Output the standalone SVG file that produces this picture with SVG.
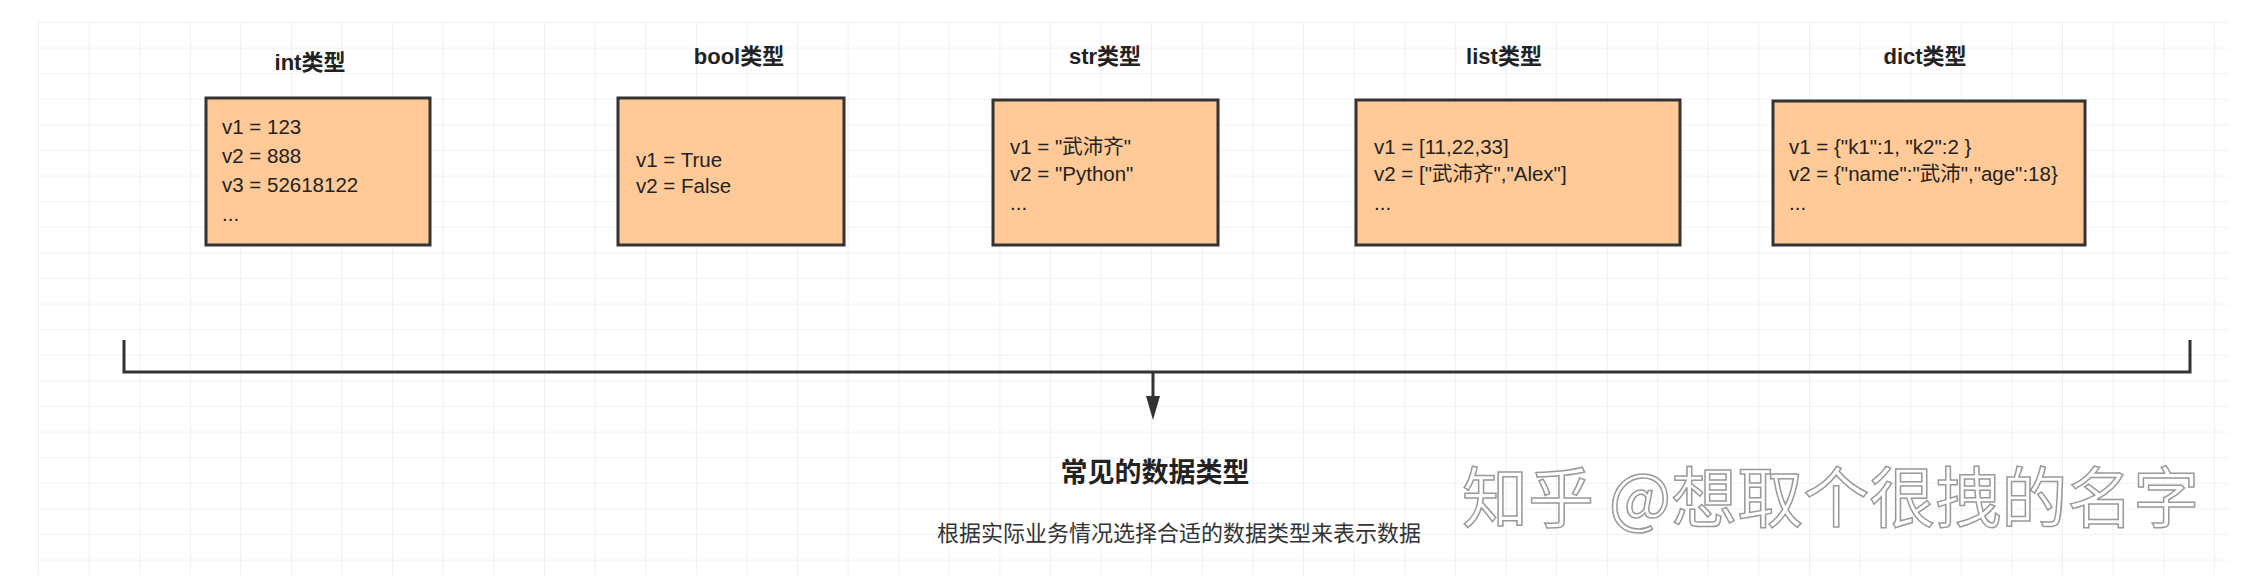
<svg xmlns="http://www.w3.org/2000/svg" width="2262" height="586" viewBox="0 0 2262 586">
<style>
.box{fill:#ffca97;stroke:#333;stroke-width:3}
.t{font-family:"Liberation Sans","Noto Sans CJK SC",sans-serif;font-size:20.5px;fill:#222}
.h{font-family:"Liberation Sans","Noto Sans CJK SC",sans-serif;font-size:22px;font-weight:bold;fill:#222;text-anchor:middle}
.c{stroke:#333;stroke-width:3;fill:none}
</style>
<defs>
<pattern id="g" x="38" y="22" width="50.6" height="25.6" patternUnits="userSpaceOnUse">
<path d="M0 0V25.6M0 0H50.6" stroke="#e6e6e6" stroke-width="1.2" fill="none"/>
</pattern>
</defs>
<rect width="2262" height="586" fill="#fff"/>
<rect x="38" y="22" width="2190" height="553" fill="url(#g)"/>
<g id="int"><text class="h" x="310" y="70">int类型</text><rect class="box" x="206" y="98" width="224" height="147"/>
<text class="t" x="222" y="134">v1 = 123</text><text class="t" x="222" y="163">v2 = 888</text><text class="t" x="222" y="192">v3 = 52618122</text><text class="t" x="222" y="221">...</text></g>
<g id="bool"><text class="h" x="739" y="64">bool类型</text><rect class="box" x="618" y="98" width="226" height="147"/>
<text class="t" x="636" y="167">v1 = True</text><text class="t" x="636" y="193">v2 = False</text></g>
<g id="str"><text class="h" x="1105" y="64">str类型</text><rect class="box" x="993" y="100" width="225" height="145"/>
<text class="t" x="1010" y="154">v1 = "武沛齐"</text><text class="t" x="1010" y="181">v2 = "Python"</text><text class="t" x="1010" y="210">...</text></g>
<g id="list"><text class="h" x="1504" y="64">list类型</text><rect class="box" x="1356" y="100" width="324" height="145"/>
<text class="t" x="1374" y="154">v1 = [11,22,33]</text><text class="t" x="1374" y="181">v2 = ["武沛齐","Alex"]</text><text class="t" x="1374" y="210">...</text></g>
<g id="dict"><text class="h" x="1925" y="64">dict类型</text><rect class="box" x="1773" y="101" width="312" height="144"/>
<text class="t" x="1789" y="154">v1 = {"k1":1, "k2":2 }</text><text class="t" x="1789" y="181">v2 = {"name":"武沛","age":18}</text><text class="t" x="1789" y="210">...</text></g>
<g id="connectors">
<path class="c" d="M124 340V372H2190V340"/>
<path class="c" d="M1153 372V400"/>
<path d="M1146 396L1153 420L1160 396Z" fill="#333"/>
</g>
<g id="summary">
<text class="h" x="1155" y="482" style="font-size:27px">常见的数据类型</text>
<text class="t" x="1179" y="541" text-anchor="middle" style="font-size:22px;fill:#333">根据实际业务情况选择合适的数据类型来表示数据</text>
</g>
<text x="1462" y="522" font-family="'Noto Sans CJK SC',sans-serif" font-size="66" fill="#fff" stroke="#999" stroke-width="1.5">知乎 @想取个很拽的名字</text>
</svg>
